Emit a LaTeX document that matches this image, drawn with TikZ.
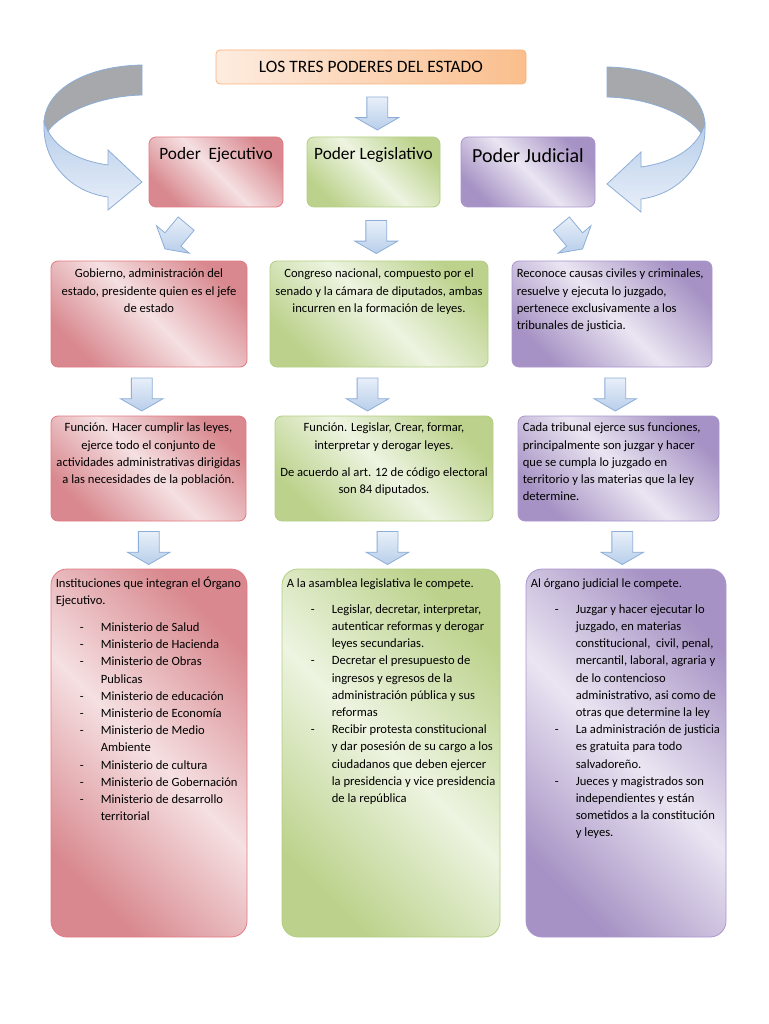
\documentclass[tikz,border=0pt]{standalone}
\usepackage{fontspec}
\setmainfont{Carlito}
\usetikzlibrary{shapes.arrows, calc, positioning}
\definecolor{rojoO}{RGB}{216,136,142}
\definecolor{rojoC}{RGB}{245,224,226}
\definecolor{rojoB}{RGB}{227,122,130}
\definecolor{verdeO}{RGB}{188,210,140}
\definecolor{verdeC}{RGB}{237,244,225}
\definecolor{verdeB}{RGB}{178,206,130}
\definecolor{moradoO}{RGB}{166,146,196}
\definecolor{moradoC}{RGB}{234,229,242}
\definecolor{moradoB}{RGB}{170,150,206}
\definecolor{naranjaO}{RGB}{250,190,140}
\definecolor{naranjaC}{RGB}{253,236,224}
\definecolor{naranjaB}{RGB}{248,178,126}
\definecolor{azulO}{RGB}{184,206,234}
\definecolor{azulC}{RGB}{232,239,249}
\definecolor{azulB}{RGB}{140,174,216}
\definecolor{gris}{RGB}{166,168,171}
\newcommand\cuerpo{\fontsize{12.6}{17.2}\selectfont}
\newcommand\guion{\hspace*{24pt}\makebox[21pt][l]{-}}
\newcommand\sangria{\hspace*{45pt}}
\tikzstyle{caja}=[draw, line width=0.8pt, rounded corners=7pt, inner sep=0pt]
\tikzstyle{rojo}=[draw=rojoB, left color=rojoO, right color=rojoO, middle color=rojoC, shading angle=135]
\tikzstyle{verde}=[draw=verdeB, left color=verdeO, right color=verdeO, middle color=verdeC, shading angle=135]
\tikzstyle{morado}=[draw=moradoB, left color=moradoO, right color=moradoO, middle color=moradoC, shading angle=135]
\tikzstyle{texto}=[inner sep=0pt, font=\cuerpo]
\tikzstyle{flecha}=[single arrow, draw=azulB, line width=0.8pt, top color=azulC, bottom color=azulO, minimum height=33pt, inner xsep=0pt, inner ysep=10pt, single arrow head extend=11pt, single arrow tip angle=120]
\tikzstyle{curva}=[draw=azulB, line width=0.8pt, top color=azulO, bottom color=azulC]
\tikzstyle{dorso}=[draw=azulB, line width=0.8pt, fill=gris]

\begin{document}
\begin{tikzpicture}[x=1pt, y=-1pt]
  \useasboundingbox (0,0) rectangle (768,1024);

  % flechas curvas a los lados
  \path[curva] (44,122) .. controls (42,162) and (70,192) .. (108,197) -- (108,210) -- (142,182) -- (108,150) -- (108,165) .. controls (80,161) and (58,150) .. (48,131) -- cycle;
  \path[dorso] (142,65) .. controls (88,66) and (46,88) .. (44,122) -- (48,131) .. controls (62,112) and (100,96) .. (142,95) -- cycle;
  \begin{scope}[shift={(749,2)}, xscale=-1]
    \path[curva] (44,122) .. controls (42,162) and (70,192) .. (108,197) -- (108,210) -- (142,182) -- (108,150) -- (108,165) .. controls (80,161) and (58,150) .. (48,131) -- cycle;
    \path[dorso] (142,65) .. controls (88,66) and (46,88) .. (44,122) -- (48,131) .. controls (62,112) and (100,96) .. (142,95) -- cycle;
  \end{scope}

  % titulo
  \node[caja, draw=naranjaB, left color=naranjaC, right color=naranjaO, rounded corners=4pt,
        minimum width=310pt, minimum height=34pt, font=\fontsize{17.4}{20}\selectfont] (titulo) at (371,67) {LOS TRES PODERES DEL ESTADO};

  % poderes
  \node[caja, rojo, minimum width=134pt, minimum height=70pt] (ej1) at (216,172) {};
  \node[caja, verde, minimum width=133pt, minimum height=70pt] (leg1) at (373.5,172) {};
  \node[caja, morado, minimum width=134pt, minimum height=70pt] (ju1) at (528,172) {};
  \node[anchor=base, font=\fontsize{17.3}{20}\selectfont] (t-ej1) at ([yshift=-23pt]ej1.north) {Poder~~Ejecutivo};
  \node[anchor=base, font=\fontsize{17.3}{20}\selectfont] (t-leg1) at ([yshift=-23pt]leg1.north) {Poder Legislativo};
  \node[anchor=base, font=\fontsize{20}{24}\selectfont] (t-ju1) at ([yshift=-26pt]ju1.north) {Poder Judicial};

  % segunda fila
  \node[caja, rojo, minimum width=196pt, minimum height=106pt] (ej2) at (149,314) {};
  \node[caja, verde, minimum width=218pt, minimum height=106pt] (leg2) at (379,314) {};
  \node[caja, morado, minimum width=200pt, minimum height=106pt] (ju2) at (612,314) {};
  \node[texto, anchor=north, align=center] (t-ej2) at ([yshift=-5pt]ej2.north)
    {\strut Gobierno, administración del\\ estado, presidente quien es el jefe\\ de estado};
  \node[texto, anchor=north, align=center] (t-leg2) at ([yshift=-5pt]leg2.north)
    {\strut Congreso nacional, compuesto por el\\ senado y la cámara de diputados, ambas\\ incurren en la formación de leyes.};
  \node[texto, anchor=north west, align=left] (t-ju2) at ([xshift=5pt, yshift=-5pt]ju2.north west)
    {\strut Reconoce causas civiles y criminales,\\ resuelve y ejecuta lo juzgado,\\ pertenece exclusivamente a los\\ tribunales de justicia.};

  % tercera fila
  \node[caja, rojo, minimum width=195pt, minimum height=105pt] (ej3) at (148.5,468.5) {};
  \node[caja, verde, minimum width=218pt, minimum height=105pt] (leg3) at (384,468.5) {};
  \node[caja, morado, minimum width=201pt, minimum height=105pt] (ju3) at (618.5,468.5) {};
  \node[texto, anchor=north, align=center] (t-ej3) at ([yshift=-4pt]ej3.north)
    {\strut Función. Hacer cumplir las leyes,\\ ejerce todo el conjunto de\\ actividades administrativas dirigidas\\ a las necesidades de la población.};
  \node[texto, anchor=north, align=center] (t-leg3) at ([yshift=-4pt]leg3.north)
    {\strut Función. Legislar, Crear, formar,\\ interpretar y derogar leyes.\\[9.8pt] De acuerdo al art. 12 de código electoral\\ son 84 diputados.};
  \node[texto, anchor=north west, align=left] (t-ju3) at ([xshift=5pt, yshift=-4pt]ju3.north west)
    {\strut Cada tribunal ejerce sus funciones,\\ principalmente son juzgar y hacer\\ que se cumpla lo juzgado en\\ territorio y las materias que la ley\\ determine.};

  % cuarta fila
  \node[caja, rojo, rounded corners=16pt, minimum width=196pt, minimum height=368pt] (ej4) at (149,753) {};
  \node[caja, verde, rounded corners=16pt, minimum width=218pt, minimum height=368pt] (leg4) at (391,753) {};
  \node[caja, morado, rounded corners=16pt, minimum width=200pt, minimum height=368pt] (ju4) at (626,753) {};
  \node[texto, anchor=north west, align=left] (t-ej4) at ([xshift=5pt, yshift=-6.5pt]ej4.north west)
    {\strut Instituciones que integran el Órgano\\ Ejecutivo.\\[9.8pt]
     \guion Ministerio de Salud\\
     \guion Ministerio de Hacienda\\
     \guion Ministerio de Obras\\
     \sangria Publicas\\
     \guion Ministerio de educación\\
     \guion Ministerio de Economía\\
     \guion Ministerio de Medio\\
     \sangria Ambiente\\
     \guion Ministerio de cultura\\
     \guion Ministerio de Gobernación\\
     \guion Ministerio de desarrollo\\
     \sangria territorial};
  \node[texto, anchor=north west, align=left] (t-leg4) at ([xshift=5pt, yshift=-6.5pt]leg4.north west)
    {\strut A la asamblea legislativa le compete.\\[8.8pt]
     \guion Legislar, decretar, interpretar,\\
     \sangria autenticar reformas y derogar\\
     \sangria leyes secundarias.\\
     \guion Decretar el presupuesto de\\
     \sangria ingresos y egresos de la\\
     \sangria administración pública y sus\\
     \sangria reformas\\
     \guion Recibir protesta constitucional\\
     \sangria y dar posesión de su cargo a los\\
     \sangria ciudadanos que deben ejercer\\
     \sangria la presidencia y vice presidencia\\
     \sangria de la república};
  \node[texto, anchor=north west, align=left] (t-ju4) at ([xshift=5pt, yshift=-6.5pt]ju4.north west)
    {\strut Al órgano judicial le compete.\\[8.8pt]
     \guion Juzgar y hacer ejecutar lo\\
     \sangria juzgado, en materias\\
     \sangria constitucional,~ civil, penal,\\
     \sangria mercantil, laboral, agraria y\\
     \sangria de lo contencioso\\
     \sangria administrativo, asi como de\\
     \sangria otras que determine la ley\\
     \guion La administración de justicia\\
     \sangria es gratuita para todo\\
     \sangria salvadoreño.\\
     \guion Jueces y magistrados son\\
     \sangria independientes y están\\
     \sangria sometidos a la constitución\\
     \sangria y leyes.};

  % flechas entre cajas
  \node[flecha, rotate=-90] (f0) at ([xshift=5pt]$(titulo.south)!.5!(leg1.north)$) {};
  \node[flecha, rotate=-130] (f1a) at ([xshift=-5pt]$(ej1.south)!.5!(ej2.north)$) {};
  \node[flecha, rotate=-90] (f1b) at ($(leg1.south)!.5!(leg2.north)$) {};
  \node[flecha, rotate=-50] (f1c) at ($(ju1.south)!.5!(ju2.north)$) {};
  \node[flecha, rotate=-90] (f2a) at ([xshift=-7pt]$(ej2.south)!.5!(ej3.north)$) {};
  \node[flecha, rotate=-90] (f2b) at ([xshift=-14pt]$(leg2.south)!.5!(leg3.north)$) {};
  \node[flecha, rotate=-90] (f2c) at ($(ju2.south)!.5!(ju3.north)$) {};
  \node[flecha, rotate=-90] (f3a) at ($(ej3.south)!.5!(ej4.north)$) {};
  \node[flecha, rotate=-90] (f3b) at ($(leg3.south)!.5!(leg4.north)$) {};
  \node[flecha, rotate=-90] (f3c) at ($(ju3.south)!.5!(ju4.north)$) {};
\end{tikzpicture}
\end{document}
